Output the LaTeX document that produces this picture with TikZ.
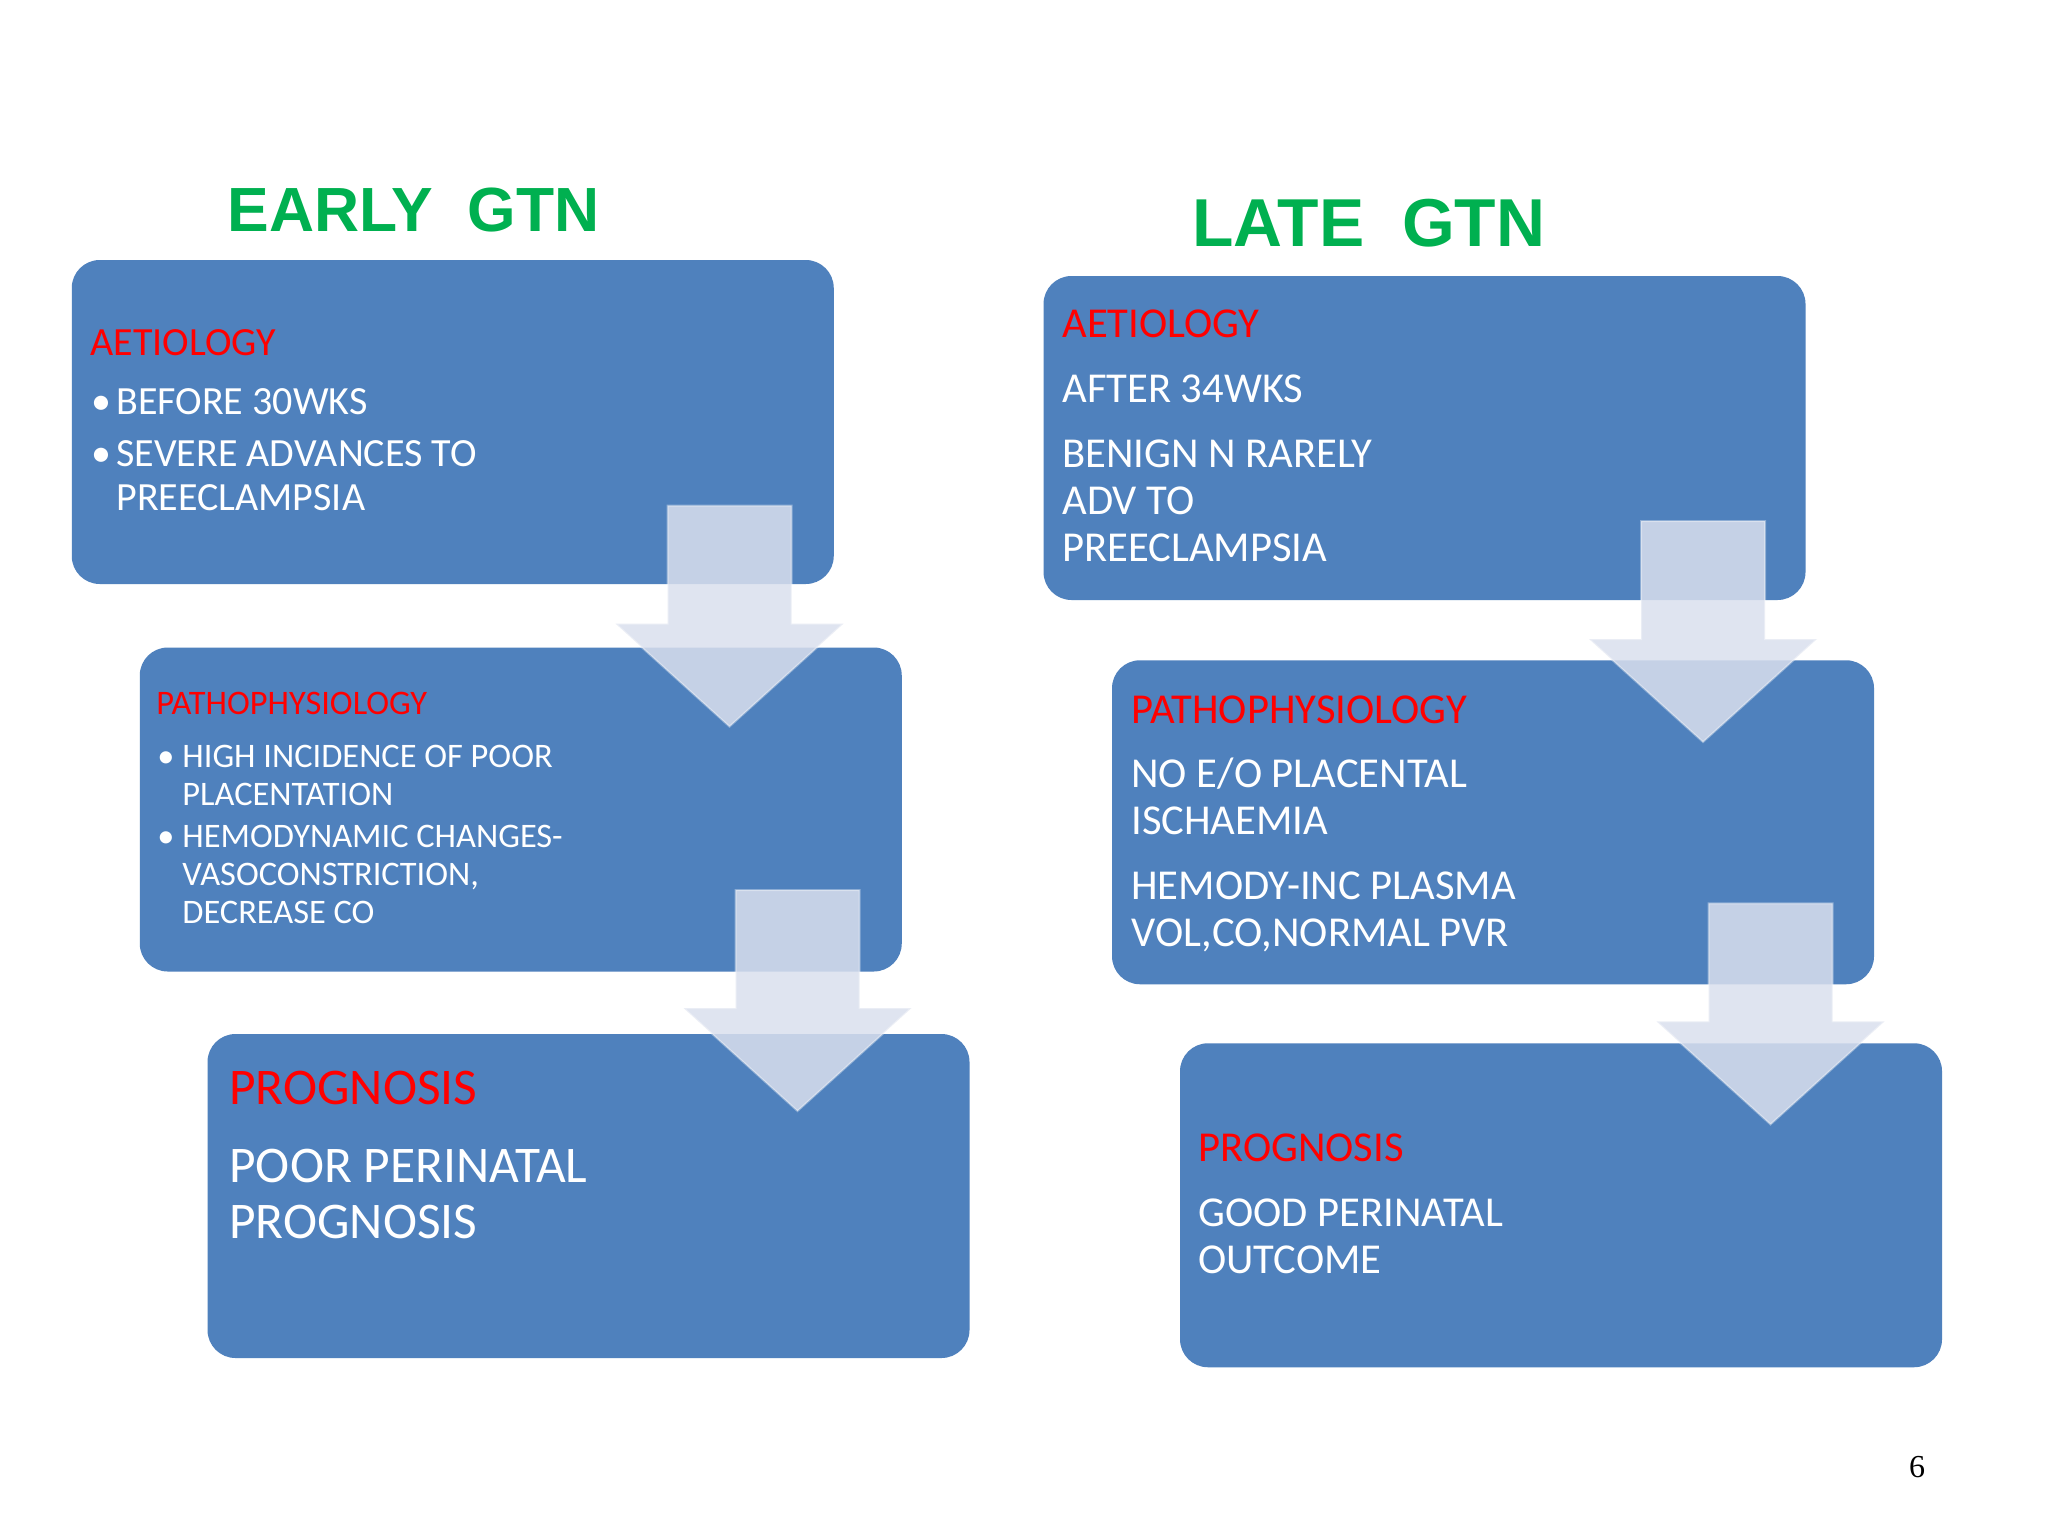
\documentclass[tikz,border=0pt]{standalone}
\usepackage{fontspec}
\setmainfont{Carlito}
\newfontfamily\titlefont{Liberation Sans}
\newfontfamily\numfont{Liberation Serif}
\definecolor{boxblue}{HTML}{4F81BD}
\definecolor{hred}{HTML}{FF0000}
\definecolor{tgreen}{HTML}{00B050}
\definecolor{arrowc}{RGB}{218,224,238}
\tikzset{
  box/.style={fill=boxblue, draw=none, rounded corners=14pt, minimum width=381pt, minimum height=162pt, inner sep=0pt},
  txt/.style={anchor=base west, inner sep=0pt, text=white},
  hd/.style={txt, text=hred},
  fA/.style={font=\fontsize{20pt}{24pt}\selectfont},
  fB/.style={font=\fontsize{17.2pt}{20pt}\selectfont},
  fC/.style={font=\fontsize{25.7pt}{30pt}\selectfont},
  fR/.style={font=\fontsize{21.3pt}{25pt}\selectfont},
  blockarrow/.style={fill=arrowc, fill opacity=0.85, draw=white, draw opacity=0.35, line width=1pt},
  ttl/.style={anchor=base west, inner sep=0pt, text=tgreen},
}
\newcommand\myarrow[2]{%
  \path[blockarrow] ({#1-62},#2) -- ({#1+62},#2) -- ({#1+62},{#2+118}) -- ({#1+114},{#2+118})
    -- (#1,{#2+221}) -- ({#1-114},{#2+118}) -- ({#1-62},{#2+118}) -- cycle;}
\begin{document}
\begin{tikzpicture}[x=0.5pt,y=-0.5pt]
\useasboundingbox (0,0) rectangle (2048,1536);
\fill[white] (0,0) rectangle (2048,1536);

% titles
\node[ttl, font=\titlefont\bfseries\fontsize{31.2pt}{37pt}\selectfont] (t1) at (227,231.2) {EARLY\ \ GTN};
\node[ttl, font=\titlefont\bfseries\fontsize{33.9pt}{40pt}\selectfont] (t2) at (1192,246.5) {LATE\ \ GTN};

% boxes
\node[box] (L1) at (452.75,422) {};
\node[box] (L2) at (520.75,809.5) {};
\node[box] (L3) at (588.5,1196) {};
\node[box] (R1) at (1424.5,438) {};
\node[box] (R2) at (1493,822.25) {};
\node[box] (R3) at (1561,1205.25) {};

% left box 1
\node[hd,fA] (l1h) at (90,355.6) {AETIOLOGY};
\node[txt,fA] (l1b1) at (91,414.9) {•};
\node[txt,fA] (l1a) at (116,414.9) {BEFORE 30WKS};
\node[txt,fA] (l1b2) at (91,466.6) {•};
\node[txt,fA] (l1b) at (116,466.6) {SEVERE ADVANCES TO};
\node[txt,fA] (l1c) at (116,510.6) {PREECLAMPSIA};

% left box 2
\node[hd,fB] (l2h) at (156,714.6) {PATHOPHYSIOLOGY};
\node[txt,fB] (l2b1) at (157,767.4) {•};
\node[txt,fB] (l2a) at (182,767.4) {HIGH INCIDENCE OF POOR};
\node[txt,fB] (l2b) at (182,805.2) {PLACENTATION};
\node[txt,fB] (l2b2) at (157,847.6) {•};
\node[txt,fB] (l2c) at (182,847.6) {HEMODYNAMIC CHANGES-};
\node[txt,fB] (l2d) at (182,885.4) {VASOCONSTRICTION,};
\node[txt,fB] (l2e) at (182,923.2) {DECREASE CO};

% left box 3
\node[hd,fC] (l3h) at (229,1104.8) {PROGNOSIS};
\node[txt,fC] (l3a) at (229,1182.7) {POOR PERINATAL};
\node[txt,fC] (l3b) at (229,1238.4) {PROGNOSIS};

% right box 1
\node[hd,fR] (r1h) at (1062,337.2) {AETIOLOGY};
\node[txt,fR] (r1a) at (1062,402.3) {AFTER 34WKS};
\node[txt,fR] (r1b) at (1062,467.4) {BENIGN N RARELY};
\node[txt,fR] (r1c) at (1062,514.4) {ADV TO};
\node[txt,fR] (r1d) at (1062,561.1) {PREECLAMPSIA};

% right box 2
\node[hd,fR] (r2h) at (1131,723) {PATHOPHYSIOLOGY};
\node[txt,fR] (r2a) at (1131,787.8) {NO E/O PLACENTAL};
\node[txt,fR] (r2b) at (1131,834) {ISCHAEMIA};
\node[txt,fR] (r2c) at (1131,899) {HEMODY-INC PLASMA};
\node[txt,fR] (r2d) at (1131,946.4) {VOL,CO,NORMAL PVR};

% right box 3
\node[hd,fR] (r3h) at (1198,1161) {PROGNOSIS};
\node[txt,fR] (r3a) at (1198,1226.7) {GOOD PERINATAL};
\node[txt,fR] (r3b) at (1198,1273) {OUTCOME};

% block arrows
\myarrow{729.5}{505.6}
\myarrow{797.5}{890}
\myarrow{1703}{521}
\myarrow{1770.5}{903.4}

% page number
\node[anchor=base, inner sep=0pt, font=\numfont\fontsize{16pt}{19pt}\selectfont] (pn) at (1917,1477) {6};
\end{tikzpicture}
\end{document}
